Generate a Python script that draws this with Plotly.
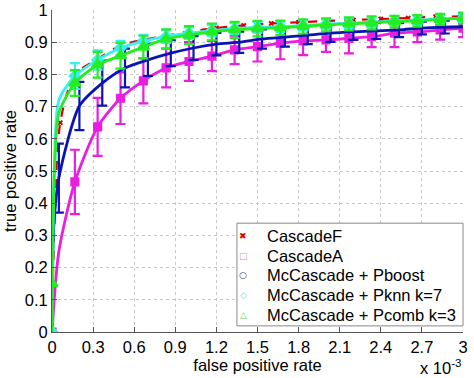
import plotly.graph_objects as go

# x in units of 1e-3 (false positive rate)
red_x = [0, 0.06, 0.167, 0.333, 0.5, 0.667, 0.833, 1.0, 1.2, 1.4, 1.6, 1.8, 2.0, 2.2, 2.4, 2.6, 2.8, 3.0]
red_y = [0, 0.65, 0.80, 0.848, 0.89, 0.907, 0.92, 0.933, 0.944, 0.952, 0.958, 0.962, 0.966, 0.969, 0.972, 0.975, 0.979, 0.98]

mag_x = [0, 0.05, 0.167, 0.333, 0.5, 0.667, 0.833, 1.0, 1.167, 1.333, 1.5, 1.667, 1.833, 2.0, 2.167, 2.333, 2.5, 2.667, 2.833, 3.0]
mag_y = [0, 0.25, 0.466, 0.637, 0.726, 0.78, 0.82, 0.84, 0.857, 0.876, 0.886, 0.897, 0.904, 0.907, 0.912, 0.917, 0.928, 0.932, 0.938, 0.944]
mag_e = [0, None, 0.10, 0.09, 0.08, 0.07, 0.06, 0.06, 0.047, 0.044, 0.046, 0.05, 0.044, 0.037, 0.047, 0.032, 0.043, 0.032, 0.03, 0.028]

blu_x = [0, 0.012, 0.05, 0.2, 0.367, 0.533, 0.7, 0.867, 1.033, 1.2, 1.367, 1.533, 1.7, 1.867, 2.033, 2.2, 2.367, 2.533, 2.7, 2.867, 3.0]
blu_y = [0, 0.32, 0.478, 0.702, 0.773, 0.82, 0.845, 0.866, 0.882, 0.894, 0.90, 0.91, 0.916, 0.922, 0.928, 0.932, 0.935, 0.938, 0.944, 0.947, 0.948]
blu_e = [0, None, 0.107, 0.075, 0.07, 0.06, 0.05, 0.04, 0.037, 0.035, 0.033, 0.03, 0.03, 0.028, 0.027, 0.025, 0.025, 0.022, 0.02, 0.02, None]

cya_x = [0, 0.02, 0.05, 0.167, 0.333, 0.5, 0.667, 0.833, 1.0, 1.167, 1.333, 1.5, 1.667, 1.833, 2.0, 2.167, 2.333, 2.5, 2.667, 2.833, 3.0]
cya_y = [0, 0.55, 0.72, 0.795, 0.845, 0.882, 0.903, 0.918, 0.928, 0.936, 0.942, 0.946, 0.948, 0.952, 0.956, 0.959, 0.962, 0.966, 0.968, 0.972, 0.975]
cya_e = [0, None, None, 0.04, 0.03, 0.022, 0.02, 0.02, 0.018, 0.018, 0.017, 0.017, 0.016, 0.016, 0.015, 0.015, 0.015, 0.014, 0.014, 0.013, 0.013]

grn_x = [0, 0, 0.02, 0.05, 0.167, 0.333, 0.5, 0.667, 0.833, 1.0, 1.167, 1.333, 1.5, 1.667, 1.833, 2.0, 2.167, 2.333, 2.5, 2.667, 2.833, 3.0]
grn_y = [0, 0.15, 0.52, 0.68, 0.773, 0.83, 0.858, 0.885, 0.91, 0.922, 0.932, 0.938, 0.942, 0.945, 0.949, 0.954, 0.957, 0.96, 0.964, 0.966, 0.971, 0.975]
grn_e = [None, 0, None, None, 0.04, 0.04, 0.04, 0.035, 0.03, 0.028, 0.026, 0.025, 0.024, 0.022, 0.022, 0.02, 0.02, 0.02, 0.018, 0.018, 0.017, 0.017]

x_ticks = [0, 0.3, 0.6, 0.9, 1.2, 1.5, 1.8, 2.1, 2.4, 2.7, 3.0]
x_tick_text = ["0", "0.3", "0.6", "0.9", "1.2", "1.5", "1.8", "2.1", "2.4", "2.7", "3"]
y_ticks = [0, 0.1, 0.2, 0.3, 0.4, 0.5, 0.6, 0.7, 0.8, 0.9, 1.0]
y_tick_text = ["0", "0.1", "0.2", "0.3", "0.4", "0.5", "0.6", "0.7", "0.8", "0.9", "1"]

names = ["CascadeF", "CascadeA", "McCascade + Pboost", "McCascade + Pknn k=7", "McCascade + Pcomb k=3"]
legend_glyphs = ["✖", "□", "○", "◇", "△"]
legend_colors = ["#d80000", "#d58ad5", "#3a3a70", "#60e0e8", "#70d070"]

RED = "#d80000"
MAG = "#e81ee0"
BLU = "#0a14b4"
CYA = "#38f0f0"
GRN = "#22ee22"

FONT = "Liberation Sans, Arial, sans-serif"

fig = go.Figure()

fig.add_trace(go.Scatter(x=red_x, y=red_y, mode="lines+markers", name=names[0],
                         line=dict(color=RED, width=2.2, dash="dash", shape="spline", smoothing=0.7),
                         marker=dict(symbol="x", size=5, color=RED),
                         showlegend=False, hoverinfo="skip"))


def add_series(xs, ys, es, color, symbol, size, filled, name):
    fig.add_trace(go.Scatter(x=xs, y=ys, mode="lines", name=name,
                             line=dict(color=color, width=2.8, shape="spline", smoothing=0.7),
                             showlegend=False, hoverinfo="skip"))
    mx = [x for x, e in zip(xs, es) if e is not None]
    my = [y for y, e in zip(ys, es) if e is not None]
    me = [e for e in es if e is not None]
    fig.add_trace(go.Scatter(
        x=mx, y=my, mode="markers", name=name,
        marker=dict(symbol=symbol, size=size, color=color if filled else "rgba(0,0,0,0)",
                    line=dict(color=color, width=2.2)),
        error_y=dict(type="data", array=me, visible=True, color=color, thickness=2.2, width=5),
        showlegend=False, hoverinfo="skip"))


add_series(mag_x, mag_y, mag_e, MAG, "square", 7, True, names[1])
add_series(blu_x, blu_y, blu_e, BLU, "circle-open", 9, False, names[2])
add_series(cya_x, cya_y, cya_e, CYA, "diamond", 8, True, names[3])
add_series(grn_x, grn_y, grn_e, GRN, "triangle-up", 10, True, names[4])

axis_common = dict(showline=True, linecolor="#555555", linewidth=1, ticks="inside", ticklen=5,
                   tickcolor="#555555", showgrid=True, gridcolor="#c8c8c8", griddash="dot", gridwidth=1,
                   zeroline=False, mirror=False, automargin=False, ticklabeloverflow="allow",
                   tickfont=dict(family=FONT, size=16.5, color="black"))

# legend box (drawn manually to match the compact row spacing)
L_X0, L_X1, L_Y0, L_Y1 = 0.450, 1.0, 0.019, 0.338
row_y = [0.298, 0.237, 0.176, 0.115, 0.054]
shapes = [dict(type="rect", xref="paper", yref="paper", x0=L_X0, x1=L_X1, y0=L_Y0, y1=L_Y1,
               line=dict(color="#888888", width=1), fillcolor="white", layer="above")]
annotations = []
for nm, gl, col, yy in zip(names, legend_glyphs, legend_colors, row_y):
    annotations.append(dict(text=gl, xref="paper", yref="paper", x=0.465, y=yy, xanchor="center",
                            yanchor="middle", showarrow=False,
                            font=dict(family="DejaVu Sans", size=9, color=col)))
    annotations.append(dict(text=nm, xref="paper", yref="paper", x=0.519, y=yy, xanchor="left",
                            yanchor="middle", showarrow=False, font=dict(family=FONT, size=16.5, color="black")))
annotations.append(dict(text="x 10<sup>-3</sup>", xref="paper", yref="paper", x=1.0, y=-0.11,
                        xanchor="right", yanchor="middle", showarrow=False,
                        font=dict(family=FONT, size=16.5, color="black")))

fig.update_layout(
    width=474, height=378,
    margin=dict(l=52, r=11, t=10, b=46),
    paper_bgcolor="white", plot_bgcolor="white",
    font=dict(family=FONT, size=16.5, color="black"),
    showlegend=False,
    xaxis=dict(range=[0, 3], tickvals=x_ticks, ticktext=x_tick_text,
               title=dict(text="false positive rate", standoff=0, font=dict(size=16.5)), **axis_common),
    yaxis=dict(range=[0, 1], tickvals=y_ticks, ticktext=y_tick_text,
               title=dict(text="true positive rate", standoff=3, font=dict(size=16.5)), **axis_common),
    shapes=shapes,
    annotations=annotations,
)

# remove the page's default 8px body margin so the figure sits at the window origin
fig.write_html("out.html", config={"displayModeBar": False},
               post_script="document.body.style.margin='0';")
